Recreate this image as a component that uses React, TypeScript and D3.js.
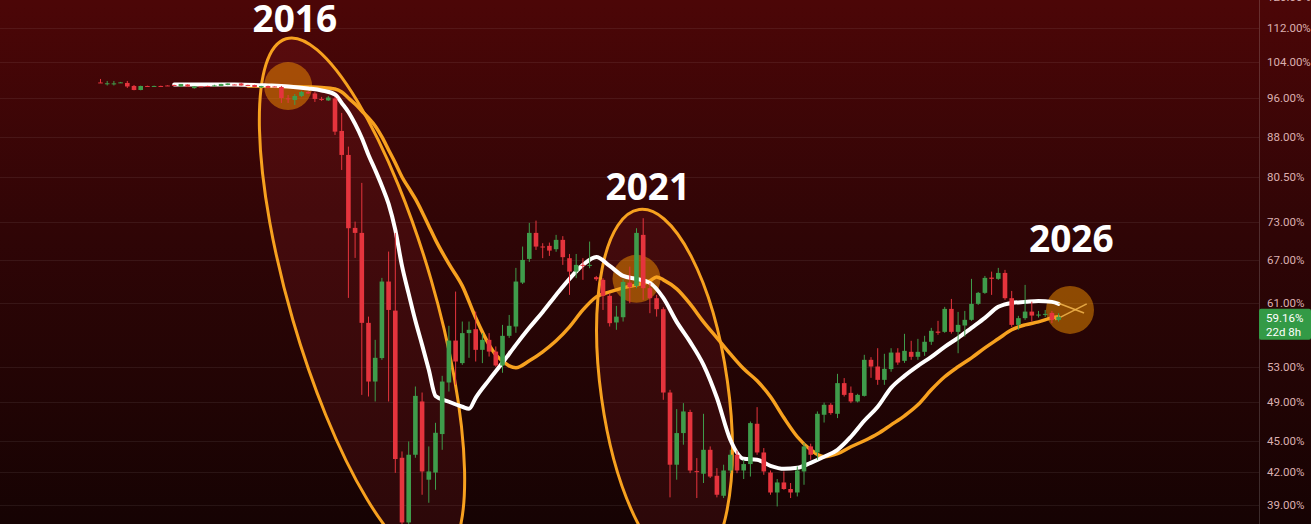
import React from 'react';
import * as d3 from 'd3';

const WIDTH = 1311;
const HEIGHT = 524;

// Monthly candles (percent values), index 0..143
const opens = [
  99.30, 99.08, 99.05, 99.28, 99.19, 98.53, 97.66, 98.53, 98.50, 98.53,
  98.64, 98.75, 98.42, 98.86, 98.05, 98.44, 98.53, 98.60, 98.53, 98.75,
  98.86, 99.08, 98.75, 98.75, 98.20, 98.53, 98.42, 98.31, 95.87, 95.53,
  96.38, 97.23, 96.91, 95.74, 95.43, 95.85, 89.21, 84.60, 72.00, 71.21,
  58.37, 51.27, 54.00, 63.95, 59.97, 43.32, 37.55, 43.61, 49.06, 41.27,
  41.93, 45.65, 51.16, 56.13, 53.40, 57.06, 57.56, 54.99, 56.22, 54.78,
  53.12, 56.72, 57.90, 63.80, 67.23, 71.21, 69.10, 69.20, 68.69, 70.12,
  67.34, 65.37, 66.35, 66.28, 64.57, 64.19, 61.96, 58.42, 59.10, 63.80,
  63.34, 70.90, 63.02, 61.64, 60.16, 50.04, 42.66, 45.75, 47.93, 42.06,
  41.82, 44.09, 41.63, 39.83, 42.12, 43.61, 42.12, 42.72, 46.70, 43.83,
  41.93, 40.12, 41.02, 40.43, 40.12, 42.03, 44.42, 43.83, 47.64, 48.70,
  47.74, 51.09, 50.00, 49.06, 49.67, 53.79, 53.00, 51.46, 52.70, 54.66,
  53.67, 54.75, 54.15, 54.75, 55.98, 57.26, 57.22, 60.20, 57.22, 58.03,
  58.76, 60.87, 62.37, 64.51, 64.33, 65.18, 61.64, 58.11, 58.98, 59.84,
  59.37, 59.45, 59.67, 58.76,
];
const highs = [
  100.07, 99.63, 99.63, 99.41, 99.63, 98.75, 98.60, 98.60, 98.60, 98.60,
  98.70, 98.80, 98.97, 98.90, 98.50, 98.50, 98.60, 98.80, 99.00, 99.10,
  98.90, 99.20, 98.80, 98.80, 98.55, 98.60, 98.50, 98.53, 96.59, 96.80,
  97.45, 97.45, 97.23, 96.17, 96.38, 96.17, 92.83, 86.17, 73.01, 79.53,
  59.18, 56.22, 64.47, 68.33, 71.21, 43.93, 44.91, 50.71, 50.04, 44.42,
  46.80, 51.92, 57.99, 62.55, 58.54, 58.54, 59.84, 57.06, 57.06, 55.40,
  58.11, 59.40, 65.91, 69.09, 72.80, 73.17, 69.61, 69.70, 70.90, 70.70,
  67.97, 67.97, 67.34, 69.86, 64.75, 64.43, 62.32, 60.60, 64.28, 66.10,
  71.95, 73.56, 63.72, 62.09, 60.42, 50.34, 48.24, 48.88, 48.17, 43.29,
  47.74, 44.42, 42.34, 42.66, 44.09, 44.02, 43.13, 46.93, 48.45, 44.26,
  42.12, 41.33, 42.03, 40.97, 42.49, 44.76, 44.69, 47.99, 48.94, 48.88,
  52.15, 51.66, 50.71, 49.90, 54.39, 54.11, 55.19, 54.51, 55.19, 55.19,
  56.97, 56.10, 56.34, 56.72, 57.73, 58.63, 60.47, 61.54, 59.80, 59.93,
  64.33, 62.50, 64.75, 65.37, 65.91, 65.62, 62.64, 59.28, 63.48, 61.17,
  59.93, 60.06, 59.93, 59.63,
];
const lows = [
  99.19, 98.64, 98.64, 99.19, 98.10, 97.60, 97.60, 98.45, 98.45, 98.45,
  98.55, 98.70, 98.30, 98.30, 97.95, 98.38, 98.48, 98.40, 98.50, 98.70,
  98.80, 98.60, 98.70, 98.30, 98.10, 98.00, 98.35, 94.90, 94.90, 94.48,
  96.17, 96.80, 95.11, 95.32, 95.32, 88.42, 81.84, 61.68, 67.38, 49.78,
  49.60, 49.06, 53.79, 49.06, 41.90, 37.00, 37.30, 43.32, 39.92, 39.22,
  40.36, 44.09, 50.15, 50.90, 53.20, 54.03, 53.59, 53.40, 54.18, 52.97,
  52.27, 56.47, 57.10, 63.60, 66.79, 68.58, 67.34, 67.68, 68.30, 66.35,
  62.09, 64.43, 64.19, 65.87, 64.05, 60.06, 57.90, 57.48, 58.54, 60.96,
  63.02, 61.41, 59.63, 59.18, 49.24, 39.69, 41.27, 44.59, 41.87, 39.63,
  40.97, 41.42, 39.69, 39.63, 41.87, 41.87, 41.33, 41.56, 43.61, 41.72,
  39.92, 38.90, 40.36, 39.63, 39.77, 40.81, 43.13, 43.13, 46.83, 47.64,
  47.29, 49.60, 48.88, 48.95, 49.60, 51.69, 50.90, 50.90, 52.39, 53.20,
  53.43, 53.79, 53.79, 54.27, 55.60, 56.85, 57.10, 57.00, 54.58, 56.63,
  58.63, 60.73, 62.23, 62.09, 64.19, 61.41, 57.86, 57.48, 58.76, 58.54,
  59.06, 59.15, 58.33, 58.54,
];
const closes = [
  99.25, 99.12, 99.10, 99.32, 98.42, 97.66, 98.53, 98.50, 98.53, 98.50,
  98.60, 98.72, 98.97, 98.42, 98.45, 98.40, 98.50, 98.64, 98.97, 99.08,
  98.84, 98.64, 98.72, 98.31, 98.53, 98.10, 98.40, 95.95, 95.83, 96.38,
  97.23, 96.91, 95.74, 95.70, 96.05, 89.07, 84.60, 71.95, 71.21, 58.37,
  51.27, 54.03, 63.95, 60.06, 43.20, 37.55, 43.61, 49.67, 42.03, 42.03,
  45.78, 51.27, 56.13, 53.59, 57.06, 57.48, 54.99, 56.22, 54.78, 53.12,
  56.72, 57.99, 63.95, 67.08, 71.21, 69.09, 69.08, 68.48, 70.12, 67.49,
  65.37, 66.35, 66.31, 66.35, 64.28, 61.96, 58.33, 59.18, 63.90, 63.16,
  71.21, 63.02, 61.64, 60.16, 50.04, 42.66, 45.75, 47.99, 42.12, 42.03,
  44.09, 41.56, 39.92, 42.12, 43.61, 42.12, 42.72, 46.77, 43.83, 42.03,
  40.12, 41.02, 40.43, 40.12, 42.12, 44.42, 43.61, 47.74, 48.70, 47.82,
  51.09, 49.78, 49.06, 49.78, 53.79, 53.00, 51.46, 52.73, 54.66, 53.47,
  54.87, 54.15, 54.75, 55.98, 57.35, 57.10, 60.20, 57.22, 58.11, 58.76,
  60.87, 62.37, 64.47, 64.33, 65.18, 61.64, 58.11, 58.98, 59.84, 59.32,
  59.45, 59.54, 58.76, 59.16,
];

// Moving averages (candle index, value)
const whiteIdx = [
  11, 15, 20, 25, 28, 31, 33, 35, 36, 37, 38, 39, 40, 41, 42, 43, 44, 45, 46, 47, 48, 49, 50,
  52, 54, 55, 56, 58, 60, 62, 64, 66, 68, 70, 72, 74, 76, 78, 80, 82, 84, 86, 88, 90, 92, 94,
  96, 98, 100, 102, 104, 106, 108, 110, 112, 114, 116, 118, 120, 122, 124, 126, 128, 130, 132,
  134, 136, 138, 140, 142, 143,
];
const whiteVals = [
  98.86, 98.86, 98.86, 98.64, 98.42, 97.99, 97.56, 96.70, 94.90, 93.03, 90.60, 87.84, 84.60,
  81.84, 79.00, 75.92, 71.68, 66.20, 62.23, 58.63, 55.60, 52.62, 49.67,
  49.03, 48.49, 48.27, 49.46, 51.46, 53.44, 55.60, 57.73, 59.80, 62.09, 64.33, 66.35, 67.53,
  66.20, 64.76, 64.33, 63.76, 61.68, 58.50, 55.97, 53.20, 49.46, 45.08, 43.22, 43.13, 42.56,
  42.28, 42.37, 42.84, 43.42, 44.09, 45.38, 47.01, 48.49, 50.56, 51.92, 53.08, 54.14, 55.36,
  56.47, 57.73, 59.02, 60.47, 61.00, 61.14, 61.27, 61.14, 60.87,
];
const orangeIdx = [
  22, 28, 31, 33, 35, 36, 37, 38, 39, 40, 41, 42, 43, 44, 45, 46, 47, 48, 49, 50, 52, 54, 56,
  58, 59, 60, 61, 62, 64, 66, 68, 70, 72, 74, 76, 78, 80, 82, 83, 84, 86, 88, 90, 92, 94, 96,
  98, 100, 102, 104, 106, 108, 110, 112, 114, 116, 118, 120, 122, 124, 126, 128, 130, 132, 134,
  136, 138, 140, 142, 143,
];
const orangeVals = [
  98.53, 98.42, 98.31, 98.20, 97.88, 97.24, 95.95, 94.69, 93.24, 91.81, 90.20, 88.03, 85.54,
  83.12, 80.58, 78.65, 76.76, 74.59, 72.32, 70.12, 66.49, 63.34, 59.02, 55.60, 54.38, 53.67,
  53.08, 52.85, 53.67, 54.75, 56.10, 57.86, 60.06, 61.82, 62.51, 63.06, 63.48, 64.04, 64.61,
  64.19, 62.92, 60.87, 58.50, 56.47, 54.50, 52.73, 51.35, 49.57, 47.32, 45.38, 44.09, 43.42,
  43.71, 44.39, 44.98, 45.68, 46.59, 47.53, 48.70, 50.34, 51.81, 52.97, 54.03, 55.23, 56.35,
  57.48, 58.11, 58.50, 59.02, 59.15,
];
// projection strokes at the right end (index, value)
const whiteProjIdx = [143, 146.8];
const whiteProjVals = [60.95, 59.67];
const orangeProjIdx = [142.5, 147.2];
const orangeProjVals = [58.76, 60.87];

const axisTicks = [120, 112, 104, 96, 88, 80.5, 73, 67, 61, 53, 49, 45, 42, 39];
const lastPrice = 59.16;
const countdown = '22d 8h';
const yearLabels = ['2016', '2021', '2026'];

const UP = '#3f9c4b';
const DOWN = '#e5343d';
const ORANGE = '#f7a11f';

export default function App() {
  const x = d3.scaleLinear().domain([0, 143]).range([100.5, 1058.6]);
  const y = d3.scaleLog().domain([112, 39]).range([28, 505.3]);
  const axisX = 1259;

  const line = d3
    .line<[number, number]>()
    .x((d) => x(d[0]))
    .y((d) => y(d[1]))
    .curve(d3.curveMonotoneX);

  const whitePts = whiteIdx.map((i, k) => [i, whiteVals[k]] as [number, number]);
  const orangePts = orangeIdx.map((i, k) => [i, orangeVals[k]] as [number, number]);
  const whiteProj = whiteProjIdx.map((i, k) => [i, whiteProjVals[k]] as [number, number]);
  const orangeProj = orangeProjIdx.map((i, k) => [i, orangeProjVals[k]] as [number, number]);
  const straight = d3.line<[number, number]>().x((d) => x(d[0])).y((d) => y(d[1]));

  const bodyW = 4.6;

  // annotation placement (chart coordinates)
  const circles = [
    { i: 28.0, v: 98.5 },
    { i: 80.0, v: 64.33 },
    { i: 144.7, v: 60.06 },
  ];
  const texts = [
    { i: 29.0, v: 111.0 },
    { i: 81.7, v: 76.6 },
    { i: 144.9, v: 68.3 },
  ];
  const ellipses = [
    { i: 39.03, v: 61.41, rx: 72, ry: 272, rot: -16.2 },
    { i: 84.18, v: 50.34, rx: 63.5, ry: 182, rot: -8 },
  ];

  return (
    <div style={{ width: WIDTH, height: HEIGHT, overflow: 'hidden' }}>
      <style>{'body{margin:0;background:#150303;}'}</style>
      <svg width={WIDTH} height={HEIGHT} style={{ display: 'block' }}>
        <defs>
          <linearGradient id="bg" x1="0" y1="0" x2="0" y2="1">
            <stop offset="0%" stopColor="#4c0607" />
            <stop offset="45%" stopColor="#2f0506" />
            <stop offset="100%" stopColor="#160303" />
          </linearGradient>
          <clipPath id="plot">
            <rect x={0} y={0} width={axisX} height={HEIGHT} />
          </clipPath>
        </defs>
        <rect x={0} y={0} width={WIDTH} height={HEIGHT} fill="url(#bg)" />

        {/* horizontal grid */}
        <g>
          {axisTicks.map((t) => (
            <line
              key={t}
              x1={0}
              x2={axisX}
              y1={Math.round(y(t)) + 0.5}
              y2={Math.round(y(t)) + 0.5}
              stroke="rgba(255,255,255,0.07)"
              strokeWidth={1}
            />
          ))}
        </g>

        <g clipPath="url(#plot)">
          {/* ellipses */}
          {ellipses.map((e, k) => (
            <ellipse
              key={'e' + k}
              cx={x(e.i)}
              cy={y(e.v)}
              rx={e.rx}
              ry={e.ry}
              transform={`rotate(${e.rot} ${x(e.i)} ${y(e.v)})`}
              fill="rgba(242,54,69,0.10)"
              stroke={ORANGE}
              strokeWidth={3}
            />
          ))}

          {/* circles */}
          {circles.map((c, k) => (
            <circle key={'c' + k} cx={x(c.i)} cy={y(c.v)} r={24} fill="rgba(255,152,0,0.47)" />
          ))}

          {/* moving averages */}
          <path d={line(orangePts) || ''} fill="none" stroke={ORANGE} strokeWidth={3.5} strokeLinejoin="round" strokeLinecap="round" />
          <path d={line(whitePts) || ''} fill="none" stroke="#ffffff" strokeWidth={4} strokeLinejoin="round" strokeLinecap="round" />
          <path d={straight(whiteProj) || ''} fill="none" stroke="#f3b64e" strokeWidth={1.6} opacity={0.85} />
          <path d={straight(orangeProj) || ''} fill="none" stroke="#f3b64e" strokeWidth={1.6} opacity={0.85} />

          {/* candles */}
          {opens.map((o, i) => {
            const c = closes[i];
            const up = c >= o;
            const col = up ? UP : DOWN;
            const cx = x(i);
            const top = y(Math.max(o, c));
            const bot = y(Math.min(o, c));
            const h = Math.max(1, bot - top);
            return (
              <g key={i}>
                <line x1={cx} x2={cx} y1={y(highs[i])} y2={y(lows[i])} stroke={col} strokeWidth={1} />
                <rect x={cx - bodyW / 2} y={top} width={bodyW} height={h} fill={col} />
              </g>
            );
          })}

          {/* year labels */}
          {texts.map((t, k) => (
            <text
              key={'t' + k}
              x={x(t.i)}
              y={y(t.v)}
              textAnchor="middle"
              fill="#ffffff"
              fontFamily="'Open Sans', 'Noto Sans', sans-serif"
              fontWeight={700}
              fontSize={37}
            >
              {yearLabels[k]}
            </text>
          ))}
        </g>

        {/* right axis */}
        <line x1={axisX + 0.5} x2={axisX + 0.5} y1={0} y2={HEIGHT} stroke="rgba(255,255,255,0.16)" />
        {axisTicks.map((t) => (
          <text
            key={'l' + t}
            x={1267}
            y={y(t)}
            dominantBaseline="central"
            fill="#dcb0b0"
            fontFamily="Roboto, 'Noto Sans', sans-serif"
            fontSize={11.5}
          >
            {t.toFixed(2) + '%'}
          </text>
        ))}
        <rect x={axisX} y={y(lastPrice) - 8} width={WIDTH - axisX} height={31} rx={2} fill="#339a46" />
        <text x={1266} y={y(lastPrice) + 1} dominantBaseline="central" fill="#ffffff" fontFamily="Roboto, 'Noto Sans', sans-serif" fontSize={11.5}>
          {lastPrice.toFixed(2) + '%'}
        </text>
        <text x={1266} y={y(lastPrice) + 15} dominantBaseline="central" fill="#ffffff" fontFamily="Roboto, 'Noto Sans', sans-serif" fontSize={11.5}>
          {countdown}
        </text>
      </svg>
    </div>
  );
}
